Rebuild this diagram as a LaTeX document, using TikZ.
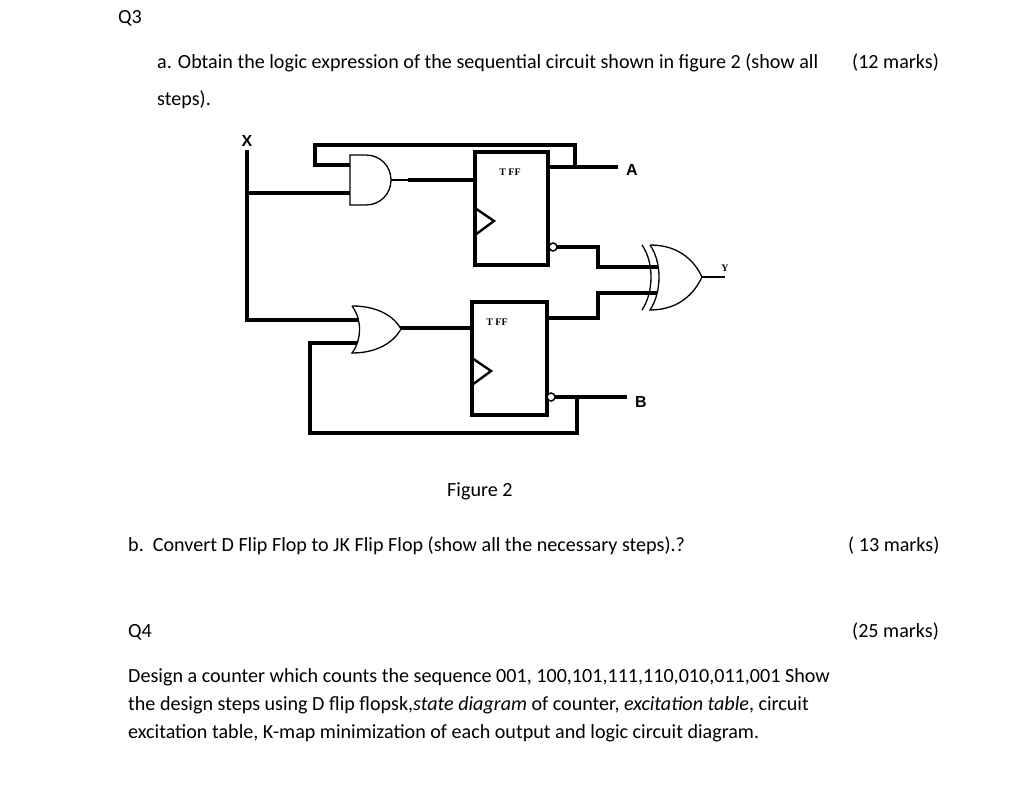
\documentclass[tikz,border=0pt]{standalone}
\usepackage{fontspec}
\setmainfont{Carlito}
\newfontfamily\serifb{Liberation Serif}
\newfontfamily\sansb{Liberation Sans}
\begin{document}
\begin{tikzpicture}[x=1pt,y=-1pt,
  txt/.style={anchor=base west,inner sep=0pt,font=\fontsize{20.1}{24}\selectfont},
  wire/.style={line width=3.6pt,line cap=rect},
  gate/.style={line width=1.3pt},
  box/.style={line width=3.2pt},
  bub/.style={line width=1.5pt,fill=white},
  small/.style={font=\serifb\bfseries\fontsize{10}{11}\selectfont,inner sep=0pt},
  lbl/.style={font=\sansb\bfseries\fontsize{16}{17}\selectfont,inner sep=0pt}]
\useasboundingbox (0,0) rectangle (1024,802);
\fill[white] (0,0) rectangle (1024,802);
% texts
\node[txt] (q3) at (118,24) {Q3};
\node[txt] (a1) at (157,69) {a. Obtain the logic expression of the sequential circuit shown in figure 2 (show all};
\node[txt] (m12) at (852,69) {(12 marks)};
\node[txt] (a2) at (157,106) {steps).};
\node[txt] (fig) at (447,496) {Figure 2};
\node[txt] (b) at (128,551) {b.\ \ Convert D Flip Flop to JK Flip Flop (show all the necessary steps).?};
\node[txt] (m13) at (848,551) {( 13 marks)};
\node[txt] (q4) at (128,637) {Q4};
\node[txt] (m25) at (852,637) {(25 marks)};
\node[txt] (p1) at (128,682) {Design a counter which counts the sequence 001, 100,101,111,110,010,011,001 Show};
\node[txt] (p2) at (128,710) {the design steps using D flip flopsk,\textit{state diagram} of counter, \textit{excitation table}, circuit};
\node[txt] (p3) at (128,738) {excitation table, K-map minimization of each output and logic circuit diagram.};
% circuit labels
\node[lbl] (X) at (247,141) {X};
\node[lbl] (A) at (632,170) {A};
\node[lbl] (B) at (641,402) {B};
\node[small] (Y) at (725,268) {Y};
% wires
\draw[wire] (247,152) -- (247,320) -- (356,320);
\draw[wire] (247,193) -- (350,193);
\draw[wire] (350,165) -- (315,165) -- (315,145) -- (575,145) -- (575,167);
\draw[gate] (391,180) -- (410,180);
\draw[wire] (410,180) -- (475,180);
\draw[wire] (548,167) -- (616,167);
\draw[wire] (556,247) -- (598,247) -- (598,267) -- (656,267);
\draw[wire] (547,318) -- (598,318) -- (598,293) -- (655,293);
\draw[gate] (702,277) -- (725,277);
\draw[wire] (401,328) -- (472,328);
\draw[wire] (554,397) -- (625,397);
\draw[wire] (577,397) -- (577,433) -- (310,433) -- (310,343) -- (357,343);
% flip-flops
\draw[box] (475,152) rectangle (548,265);
\node[small] (ta) at (510,172) {T FF};
\draw[line width=2.4pt] (475,208) -- (494,221) -- (475,235);
\draw[bub] (553,247) circle (4);
\draw[box] (472,302) rectangle (547,415);
\node[small] (tb) at (497,322) {T FF};
\draw[line width=2.4pt] (472,358) -- (491,371) -- (472,385);
\draw[bub] (551,397) circle (4);
% AND gate
\draw[gate,fill=white] (350,155) -- (366,155) .. controls (380,155) and (391,166) .. (391,180)
  .. controls (391,194) and (380,205) .. (366,205) -- (350,205) -- cycle;
% OR gate
\draw[gate,fill=white] (352,306) .. controls (380,306) and (395,318) .. (401,329)
  .. controls (395,340) and (380,353) .. (352,353)
  .. controls (362,340) and (362,319) .. (352,306);
% XOR gate
\draw[gate,fill=white] (650,245) .. controls (680,245) and (695,262) .. (702,277)
  .. controls (695,292) and (680,310) .. (650,310)
  .. controls (662,292) and (662,262) .. (650,245);
\draw[gate] (642,245) .. controls (654,262) and (654,292) .. (642,310);
\end{tikzpicture}
\end{document}
